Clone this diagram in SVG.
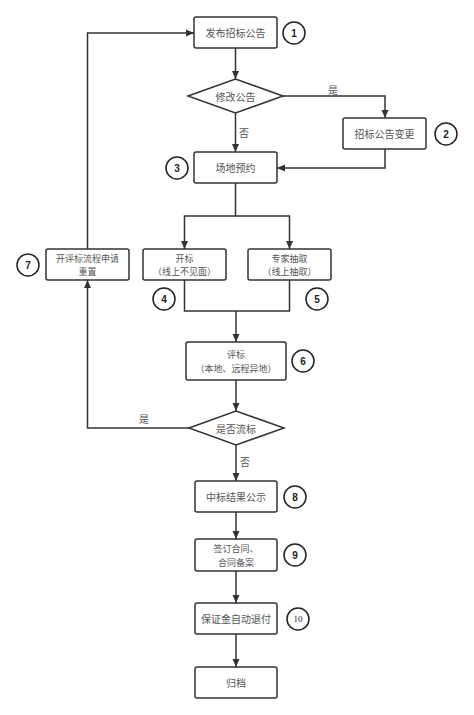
<svg xmlns="http://www.w3.org/2000/svg" width="474" height="715" viewBox="0 0 474 715">
<style>
.box{fill:#fff;stroke:#333;stroke-width:1.5}
.t{font-family:"Noto Sans CJK SC","Liberation Sans",sans-serif;font-size:10px;fill:#555;text-anchor:middle;dominant-baseline:central}
.t2{font-size:9px}
.c{fill:#fff;stroke:#222;stroke-width:1.5}
.n{font-family:"Liberation Sans",sans-serif;font-size:10px;font-weight:bold;fill:#222;text-anchor:middle;dominant-baseline:central}
.n10{font-family:"Liberation Serif",serif;font-size:9px;fill:#222;text-anchor:middle;dominant-baseline:central}
.ln{fill:none;stroke:#333;stroke-width:1.5}
</style>
<defs>
<marker id="ah" markerWidth="8" markerHeight="8" refX="8" refY="4" orient="auto" markerUnits="userSpaceOnUse">
<path d="M0,0.5 L8,4 L0,7.5 Z" fill="#333"/>
</marker>
</defs>
<rect width="474" height="715" fill="#fff"/>
<g id="connectors">
<path class="ln" d="M235.5,48 V79" marker-end="url(#ah)"/>
<path class="ln" d="M283,96 H385 V118" marker-end="url(#ah)"/>
<path class="ln" d="M235.5,113 V152" marker-end="url(#ah)"/>
<path class="ln" d="M385,149 V168 H277" marker-end="url(#ah)"/>
<path class="ln" d="M235.5,183 V216 H184.5 V249" marker-end="url(#ah)"/>
<path class="ln" d="M235.5,216 H289.5 V249" marker-end="url(#ah)"/>
<path class="ln" d="M184.5,280 V311 H289.5 V280"/>
<path class="ln" d="M236,311 V342" marker-end="url(#ah)"/>
<path class="ln" d="M236,380 V411" marker-end="url(#ah)"/>
<path class="ln" d="M189,428 H87.5 V280" marker-end="url(#ah)"/>
<path class="ln" d="M87.5,249 V33 H194" marker-end="url(#ah)"/>
<path class="ln" d="M236,445 V481" marker-end="url(#ah)"/>
<path class="ln" d="M236,512 V539" marker-end="url(#ah)"/>
<path class="ln" d="M236,571 V603" marker-end="url(#ah)"/>
<path class="ln" d="M236,634 V667" marker-end="url(#ah)"/>
<text class="t" x="333" y="89">是</text>
<text class="t" x="244" y="132">否</text>
<text class="t" x="144" y="418">是</text>
<text class="t" x="245" y="461">否</text>
</g>
<g id="n1"><rect class="box" x="194" y="17" width="83" height="31" rx="2"/><text class="t" x="235.5" y="32.5">发布招标公告</text></g>
<g id="c1"><circle class="c" cx="294" cy="33" r="11"/><text class="n" x="294" y="33">1</text></g>
<g id="d1"><polygon class="box" points="188,96 235.5,79 283,96 235.5,113"/><text class="t" x="235.5" y="96">修改公告</text></g>
<g id="n2"><rect class="box" x="343" y="118" width="83" height="31" rx="2"/><text class="t" x="384.5" y="133.5">招标公告变更</text></g>
<g id="c2"><circle class="c" cx="446" cy="134" r="11"/><text class="n" x="446" y="134">2</text></g>
<g id="n3"><rect class="box" x="194" y="152" width="83" height="31" rx="2"/><text class="t" x="235.5" y="167.5">场地预约</text></g>
<g id="c3"><circle class="c" cx="177" cy="168" r="11"/><text class="n" x="177" y="168">3</text></g>
<g id="n4"><rect class="box" x="143" y="249" width="83" height="31" rx="2"/><text class="t t2" x="184.5" y="258">开标</text><text class="t t2" x="184.5" y="271.5">（线上不见面）</text></g>
<g id="c4"><circle class="c" cx="164" cy="299" r="11"/><text class="n" x="164" y="299">4</text></g>
<g id="n5"><rect class="box" x="248" y="249" width="83" height="31" rx="2"/><text class="t t2" x="289.5" y="258">专家抽取</text><text class="t t2" x="289.5" y="271.5">（线上抽取）</text></g>
<g id="c5"><circle class="c" cx="317" cy="299" r="11"/><text class="n" x="317" y="299">5</text></g>
<g id="n7"><rect class="box" x="46" y="249" width="83" height="31" rx="2"/><text class="t t2" x="87.5" y="258">开评标流程申请</text><text class="t t2" x="87.5" y="271.5">重置</text></g>
<g id="c7"><circle class="c" cx="28" cy="265" r="11"/><text class="n" x="28" y="265">7</text></g>
<g id="n6"><rect class="box" x="186" y="342" width="100" height="38" rx="2"/><text class="t t2" x="236" y="354.5">评标</text><text class="t t2" x="236" y="368">（本地、远程异地）</text></g>
<g id="c6"><circle class="c" cx="303" cy="361" r="11"/><text class="n" x="303" y="361">6</text></g>
<g id="d2"><polygon class="box" points="189,428 236,411 284,428 236,445"/><text class="t" x="236" y="428">是否流标</text></g>
<g id="n8"><rect class="box" x="195" y="481" width="82" height="31" rx="2"/><text class="t" x="236" y="496.5">中标结果公示</text></g>
<g id="c8"><circle class="c" cx="295" cy="497" r="11"/><text class="n" x="295" y="497">8</text></g>
<g id="n9"><rect class="box" x="195" y="539" width="82" height="32" rx="2"/><text class="t t2" x="236" y="548.5">签订合同、</text><text class="t t2" x="236" y="562">合同备案</text></g>
<g id="c9"><circle class="c" cx="295" cy="555" r="11"/><text class="n" x="295" y="555">9</text></g>
<g id="n10"><rect class="box" x="195" y="603" width="82" height="31" rx="2"/><text class="t" x="236" y="618.5">保证金自动退付</text></g>
<g id="c10"><circle class="c" cx="298" cy="619" r="11"/><text class="n10" x="298" y="619">10</text></g>
<g id="n11"><rect class="box" x="195" y="667" width="82" height="31" rx="2"/><text class="t" x="236" y="682.5">归档</text></g>
</svg>
